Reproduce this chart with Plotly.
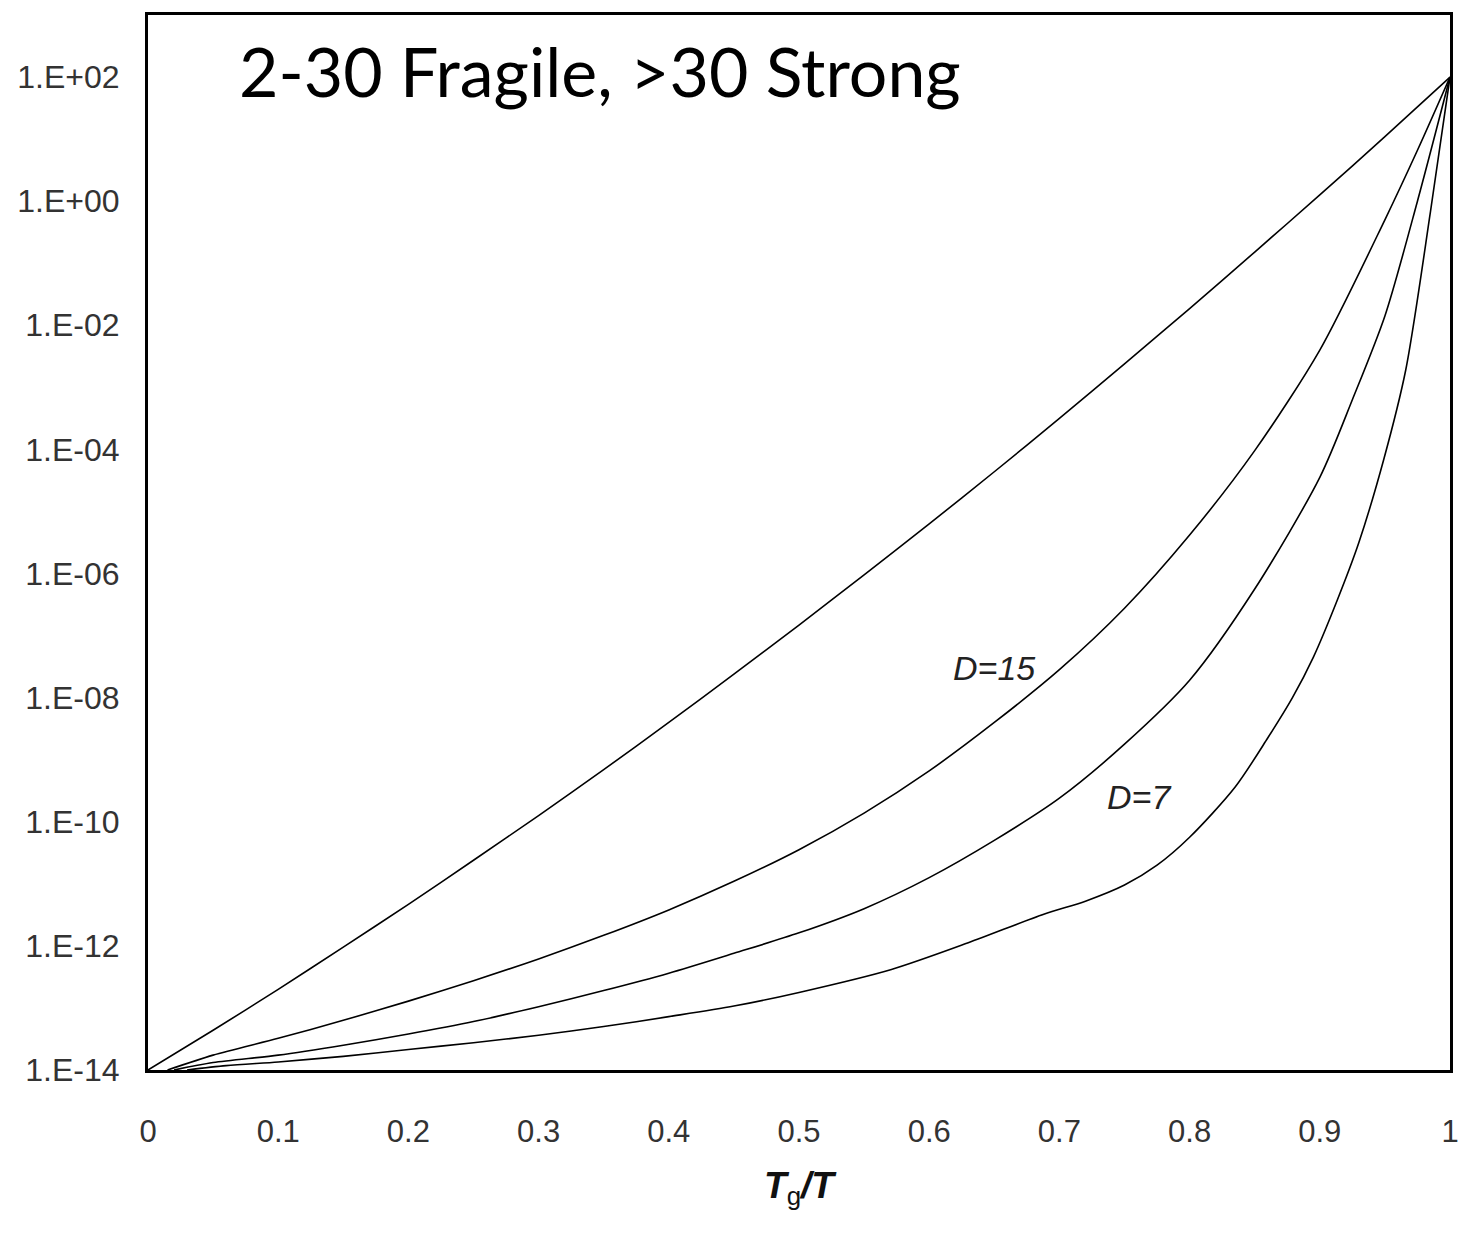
import plotly.graph_objects as go

# Tg/T values and log10 of the plotted quantity
strong_x = [0.0, 0.05, 0.10, 0.15, 0.20, 0.25, 0.30, 0.35, 0.40, 0.45, 0.50, 0.55, 0.60, 0.65, 0.70, 0.75, 0.80, 0.85, 0.90, 0.95, 1.0]
strong_logy = [-14.0, -13.36, -12.70, -12.02, -11.33, -10.62, -9.90, -9.16, -8.40, -7.62, -6.83, -6.02, -5.20, -4.36, -3.50, -2.62, -1.73, -0.82, 0.10, 1.04, 2.0]

d15_x = [0.015, 0.05, 0.10, 0.15, 0.20, 0.25, 0.30, 0.35, 0.40, 0.45, 0.50, 0.55, 0.60, 0.65, 0.70, 0.75, 0.80, 0.85, 0.90, 0.95, 0.975, 1.0]
d15_logy = [-14.0, -13.76, -13.49, -13.20, -12.89, -12.56, -12.21, -11.83, -11.42, -10.96, -10.45, -9.86, -9.18, -8.40, -7.55, -6.56, -5.38, -4.02, -2.40, -0.30, 0.82, 2.0]

d7_x = [0.02, 0.05, 0.10, 0.15, 0.20, 0.25, 0.30, 0.35, 0.40, 0.45, 0.50, 0.55, 0.60, 0.65, 0.70, 0.75, 0.80, 0.85, 0.90, 0.925, 0.95, 0.975, 1.0]
d7_logy = [-14.0, -13.88, -13.76, -13.60, -13.42, -13.22, -12.98, -12.72, -12.44, -12.12, -11.79, -11.40, -10.90, -10.30, -9.62, -8.75, -7.72, -6.25, -4.45, -3.20, -1.85, 0.0, 2.0]

d3_x = [0.03, 0.06, 0.10, 0.15, 0.20, 0.25, 0.30, 0.35, 0.40, 0.45, 0.50, 0.571, 0.63, 0.688, 0.72, 0.75, 0.775, 0.80, 0.835, 0.86, 0.879, 0.895, 0.913, 0.93, 0.949, 0.966, 0.985, 1.0]
d3_logy = [-14.0, -13.93, -13.87, -13.78, -13.67, -13.56, -13.44, -13.30, -13.14, -12.97, -12.75, -12.38, -11.95, -11.49, -11.28, -11.02, -10.70, -10.25, -9.44, -8.65, -8.00, -7.35, -6.45, -5.50, -4.17, -2.72, -0.17, 2.0]

curves = [
    (strong_x, strong_logy),
    (d15_x, d15_logy),
    (d7_x, d7_logy),
    (d3_x, d3_logy),
]

ytick_exp = [2, 0, -2, -4, -6, -8, -10, -12, -14]
ytick_text = ["1.E+02", "1.E+00", "1.E-02", "1.E-04", "1.E-06", "1.E-08", "1.E-10", "1.E-12", "1.E-14"]
xtick_vals = [0, 0.1, 0.2, 0.3, 0.4, 0.5, 0.6, 0.7, 0.8, 0.9, 1]
xtick_text = ["0", "0.1", "0.2", "0.3", "0.4", "0.5", "0.6", "0.7", "0.8", "0.9", "1"]

fig = go.Figure()
for cx, cy in curves:
    fig.add_trace(go.Scatter(
        x=cx, y=[10 ** v for v in cy], mode="lines",
        line=dict(color="black", width=1.6, shape="spline", smoothing=0.8),
        showlegend=False, hoverinfo="skip"))

fig.update_layout(
    width=1471, height=1236,
    margin=dict(l=148, r=17, t=15, b=166),
    paper_bgcolor="white", plot_bgcolor="white",
    font=dict(family="Liberation Sans, Arial, sans-serif", color="#222"),
    showlegend=False,
)
fig.update_xaxes(
    range=[0, 1], tickvals=xtick_vals, ticktext=xtick_text,
    showgrid=False, zeroline=False, showline=True, mirror=True,
    linecolor="black", linewidth=3, ticks="",
    tickfont=dict(size=31, color="#333"), ticklabelstandoff=32,
    title=dict(text="<b><i>T</i></b><sub>g</sub><b><i>/T</i></b>",
               font=dict(size=37, color="#111"), standoff=24),
)
fig.update_yaxes(
    type="log", range=[-14, 3],
    tickvals=[10 ** e for e in ytick_exp], ticktext=ytick_text,
    showgrid=False, zeroline=False, showline=True, mirror=True,
    linecolor="black", linewidth=3, ticks="",
    tickfont=dict(size=32, color="#333"), ticklabelstandoff=19,
)

fig.add_annotation(text="2-30 Fragile, >30 Strong", xref="paper", yref="paper",
                   x=0.068, y=0.947, xanchor="left", yanchor="middle", showarrow=False,
                   font=dict(family="Lato, Open Sans, sans-serif", size=68, color="black"))
fig.add_annotation(text="<i>D=15</i>", xref="paper", yref="paper",
                   x=0.650, y=0.381, xanchor="center", yanchor="middle", showarrow=False,
                   font=dict(size=34, color="#222"))
fig.add_annotation(text="<i>D=7</i>", xref="paper", yref="paper",
                   x=0.761, y=0.259, xanchor="center", yanchor="middle", showarrow=False,
                   font=dict(size=34, color="#222"))

fig.write_html("out.html")
